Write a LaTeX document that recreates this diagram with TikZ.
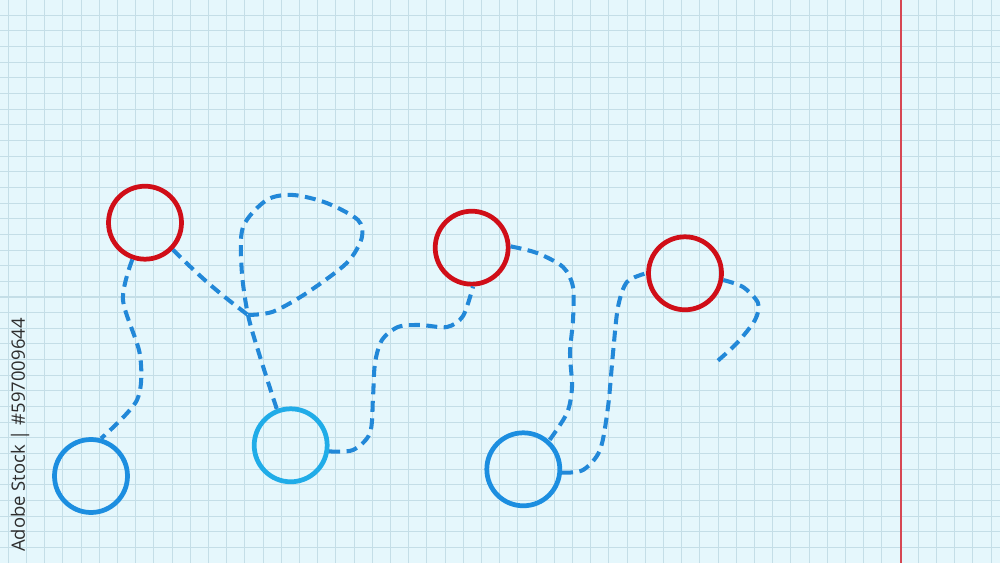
\documentclass[tikz,border=0pt]{standalone}
\usepackage{fontspec}
\setsansfont{Open Sans}
\definecolor{paper}{RGB}{229,247,252}
\definecolor{gridline}{RGB}{196,222,231}
\definecolor{margin}{RGB}{214,70,82}
\definecolor{darkred}{RGB}{208,14,24}
\definecolor{midblue}{RGB}{28,142,224}
\definecolor{lightblue}{RGB}{32,172,232}
\definecolor{trailblue}{RGB}{34,136,216}

\begin{document}
\begin{tikzpicture}[x=0.02cm,y=-0.02cm,
    stop/.style={circle,draw,line width=2.7pt,minimum size=1.46cm,inner sep=0pt},
    trail/.style={trailblue,line width=2.3pt,dash pattern=on 0.22cm off 0.13cm}]
    % paper
    \useasboundingbox (0,0) rectangle (1000,563);
    \fill[paper] (0,0) rectangle (1000,563);
    % loop over the grid lines
    \foreach \i in {0,...,54}
      \draw[gridline,line width=0.6pt] ({8.3+18.2*\i},0) -- ++(0,563);
    \foreach \j in {0,...,35}
      \draw[gridline,line width=0.6pt] (0,{15.3+15.65*\j}) -- ++(1000,0);
    \draw[margin,line width=1.4pt] (901,0) -- (901,563);
    % tag
    \node (tag) [rotate=90,font=\sffamily\fontsize{10.5}{12}\selectfont,text=black!82] at (20,435) {Adobe Stock | \#597009644};
    % stops
    \node (r1) [stop,darkred] at (145,222.7) {};
    \node (r2) [stop,darkred] at (471.7,247.7) {};
    \node (r3) [stop,darkred] at (685,273.3) {};
    \node (b1) [stop,midblue] at (91,476) {};
    \node (b2) [stop,lightblue] at (290.7,445.3) {};
    \node (b3) [stop,midblue] at (523.3,469.3) {};
    \coordinate (knot) at (248,315);
    \coordinate (tail) at (716.7,361.7);
    % trails
    \draw[trail] plot[smooth] coordinates {(r1.251) (123,300) (140,355) (137,400) (b1.75)};
    \draw[trail] (r1.316) to[bend right=4] (knot);
    \draw[trail] plot[smooth] coordinates {(knot) (273,311.7) (306.7,293) (346.7,263) (361.7,238)
      (358,220) (326.7,203) (293,195) (266.7,200) (243,227) (241.7,270) (knot) (260,356.7) (b2.111)};
    \draw[trail] plot[smooth] coordinates {(b2.351) (353,450) (370,433) (373,397) (375,363) (382,340)
      (398,327) (420,325) (447,327) (463,316) (r2.272)};
    \draw[trail] plot[smooth] coordinates {(r2.2) (537,253) (563,267) (573,287) (573,320) (570,353)
      (572,387) (567,413) (b3.48)};
    \draw[trail] plot[smooth] coordinates {(b3.355) (583,470) (600,450) (608,407) (613,353) (618,307)
      (627,282) (r3.180)};
    \draw[trail] plot[smooth] coordinates {(r3.350) (743,287) (758,303) (755,320) (737,343) (tail)};
\end{tikzpicture}
\end{document}
